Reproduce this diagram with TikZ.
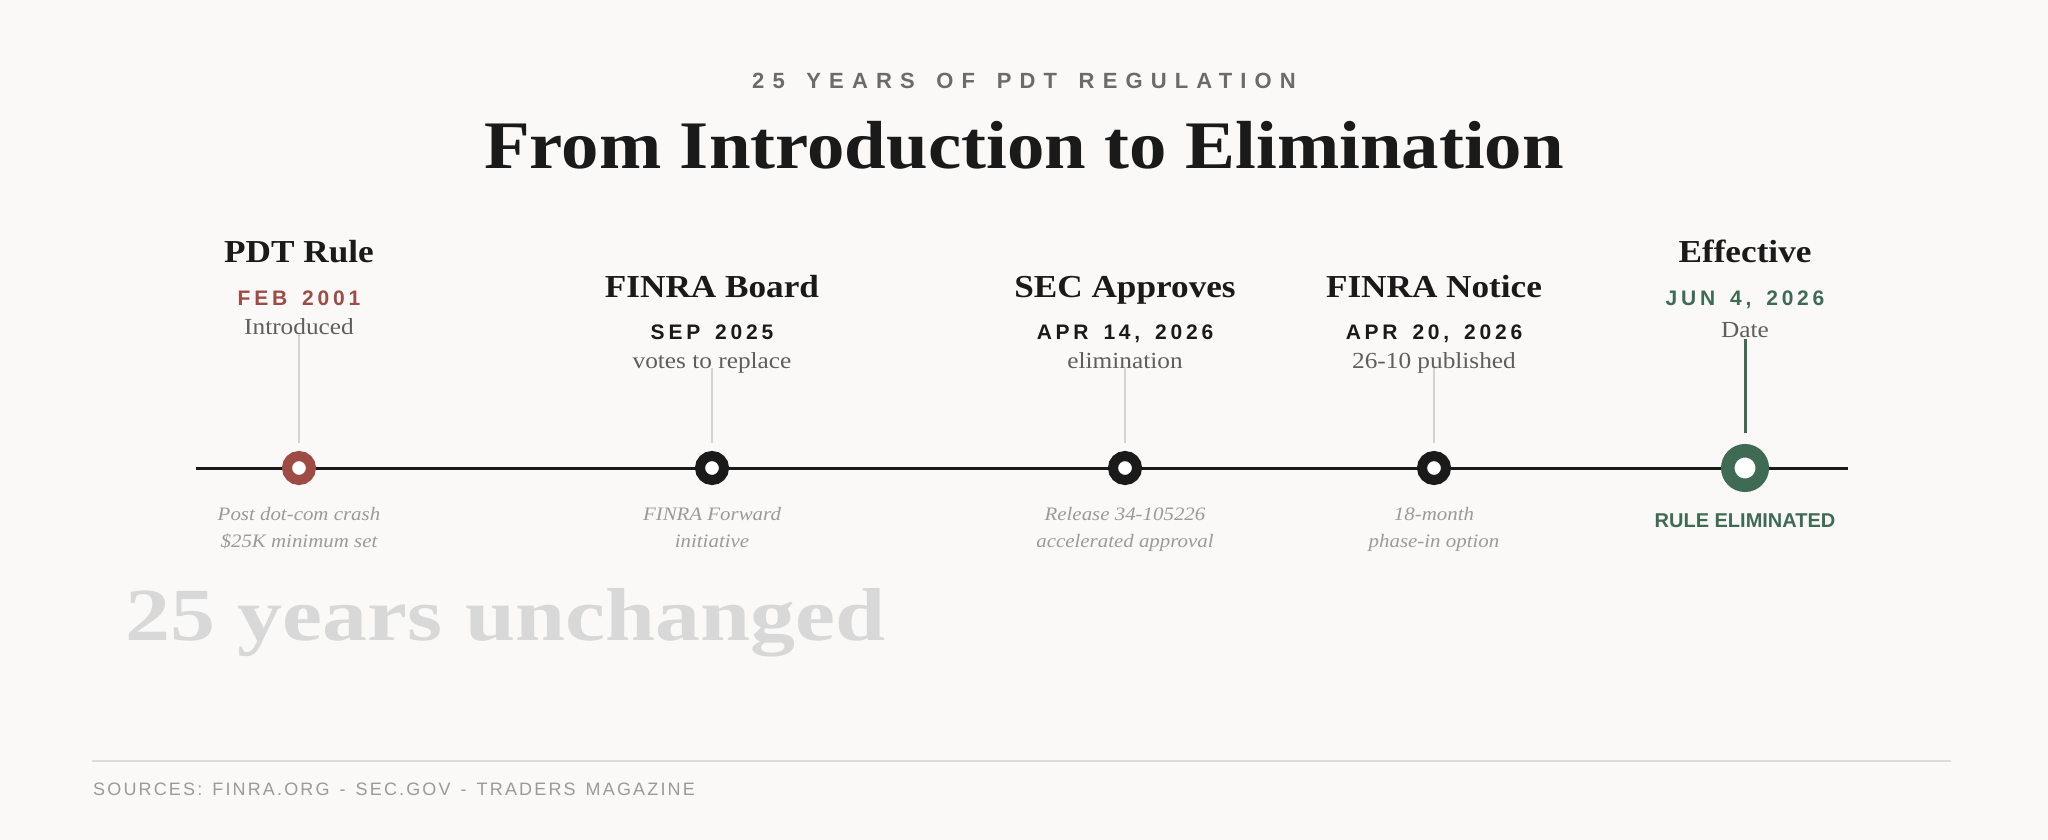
\documentclass[tikz,border=0pt]{standalone}
\usepackage{fontspec}
\setmainfont{Liberation Serif}[FakeStretch=1.1]
\setsansfont{Liberation Sans}
\newfontfamily\wmserif{Liberation Serif}[FakeStretch=1.2]
\newfontfamily\datesans{Liberation Sans}[LetterSpace=18, WordSpace=1.55]
\newfontfamily\kickersans{Liberation Sans}[LetterSpace=37, WordSpace=1.52]
\newfontfamily\footsans{Liberation Sans}[LetterSpace=12, WordSpace=1.4]

\definecolor{paper}{HTML}{FAF9F7}
\definecolor{ink}{HTML}{1A1A1A}
\definecolor{pdtred}{HTML}{9E4A45}
\definecolor{pdtgreen}{HTML}{3F6B55}
\definecolor{kickergray}{HTML}{6B6B6B}
\definecolor{descgray}{HTML}{5E5E5E}
\definecolor{notegray}{HTML}{9A9A9A}
\definecolor{stemgray}{HTML}{D2D2D2}
\definecolor{wmgray}{HTML}{D8D8D8}
\definecolor{footgray}{HTML}{DCDCDC}

\begin{document}
\begin{tikzpicture}[x=1pt, y=-1pt,
  evtitle/.style={anchor=base, inner sep=0, text=ink, font=\fontsize{32}{36}\selectfont\bfseries},
  evdate/.style={anchor=base, inner sep=0, text=ink, font=\datesans\fontsize{21}{24}\selectfont\bfseries},
  evdesc/.style={anchor=base, inner sep=0, text=descgray, font=\fontsize{23}{26}\selectfont},
  evnote/.style={anchor=north, inner sep=0, align=center, text=notegray, font=\fontsize{19}{27}\selectfont\itshape},
  marker/.style={circle, line width=10pt, draw=ink, fill=white, minimum size=24pt, inner sep=0},
  stem/.style={draw=stemgray, line width=1.5pt, shorten >=8pt}]
	\fill[paper] (0,0) rectangle (2048,840);
	\useasboundingbox (0,0) rectangle (2048,840);

	\node[anchor=base, inner sep=0, text=kickergray, font=\kickersans\fontsize{22}{26}\selectfont\bfseries] (kicker) at (1024,89) {25 YEARS OF PDT REGULATION};
	\node[anchor=base, inner sep=0, text=ink, font=\fontsize{68}{72}\selectfont\bfseries] (headline) at (1024,168) {From Introduction to Elimination};

	% event labels
	\node[evtitle] (title1) at (299,262) {PDT Rule};
	\node[evdate, text=pdtred] (date1) at (299,305) {FEB 2001};
	\node[evdesc] (desc1) at (299,334) {Introduced};
	\node[evtitle] (title2) at (712,297) {FINRA Board};
	\node[evdate] (date2) at (712,339) {SEP 2025};
	\node[evdesc] (desc2) at (712,368) {votes to replace};
	\node[evtitle] (title3) at (1125,297) {SEC Approves};
	\node[evdate] (date3) at (1125,339) {APR 14, 2026};
	\node[evdesc] (desc3) at (1125,368) {elimination};
	\node[evtitle] (title4) at (1434,297) {FINRA Notice};
	\node[evdate] (date4) at (1434,339) {APR 20, 2026};
	\node[evdesc] (desc4) at (1434,368) {26-10 published};
	\node[evtitle] (title5) at (1745,262) {Effective};
	\node[evdate, text=pdtgreen] (date5) at (1745,305) {JUN 4, 2026};
	\node[evdesc] (desc5) at (1745,337) {Date};

	% timeline
	\coordinate (tlwest) at (196,468);
	\coordinate (tleast) at (1848,468);
	\draw[ink, line width=3pt] (tlwest) -- (tleast);
	\node[marker, draw=pdtred] (dot1) at (299,468) {};
	\node[marker] (dot2) at (712,468) {};
	\node[marker] (dot3) at (1125,468) {};
	\node[marker] (dot4) at (1434,468) {};
	\node[marker, draw=pdtgreen, line width=13.5pt, minimum size=34.5pt] (dot5) at (1745,468) {};

	\draw[stem] (desc1.base) -- (dot1.north);
	\draw[stem] (desc2.base) -- (dot2.north);
	\draw[stem] (desc3.base) -- (dot3.north);
	\draw[stem] (desc4.base) -- (dot4.north);
	\draw[pdtgreen, line width=3pt, shorten <=2pt, shorten >=11pt] (desc5.base) -- (dot5.north);

	% notes under the line
	\node[evnote] (note1) at (299,507) {Post dot-com crash\\\$25K minimum set};
	\node[evnote] (note2) at (712,507) {FINRA Forward\\initiative};
	\node[evnote] (note3) at (1125,507) {Release 34-105226\\accelerated approval};
	\node[evnote] (note4) at (1434,507) {18-month\\phase-in option};
	\node[anchor=base, inner sep=0, text=pdtgreen, font=\sffamily\fontsize{20}{24}\selectfont\bfseries] (note5) at (1745,527) {RULE ELIMINATED};

	\node[anchor=base west, inner sep=0, text=wmgray, font=\wmserif\fontsize{75}{80}\selectfont\bfseries] (watermark) at (125,640) {25 years unchanged};

	% sources
	\coordinate (footwest) at (92,761);
	\coordinate (footeast) at (1951,761);
	\draw[footgray, line width=2pt] (footwest) -- (footeast);
	\node[anchor=base west, inner sep=0, text=notegray, font=\footsans\fontsize{18}{22}\selectfont] (sources) at (93,795) {SOURCES: FINRA.ORG - SEC.GOV - TRADERS MAGAZINE};
\end{tikzpicture}
\end{document}
